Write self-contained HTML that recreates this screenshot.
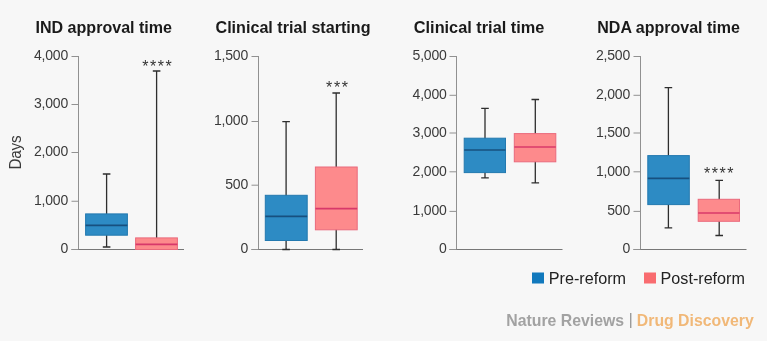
<!DOCTYPE html>
<html><head><meta charset="utf-8"><title>Box plots</title>
<style>
html,body{margin:0;padding:0;background:#f7f7f7;}
svg{display:block;font-family:"Liberation Sans",sans-serif;}
.t{font-size:16px;font-weight:bold;fill:#1a1a1a;}
.l{font-size:14px;fill:#3a3a3a;letter-spacing:-0.2px;}
.s{font-size:16px;fill:#333;}
.ax{fill:none;stroke:#919191;stroke-width:1;}
.w{fill:none;stroke:#2e2e2e;stroke-width:1.3;}
.lg{font-size:16px;fill:#222;}
.f{font-size:16.5px;font-weight:bold;}
</style></head><body>
<svg width="767" height="341" viewBox="0 0 767 341">
<rect width="767" height="341" fill="#f7f7f7"/>
<text transform="translate(21.3,152.65) rotate(-90)" x="-16.95" class="l" textLength="33.9" lengthAdjust="spacingAndGlyphs" style="font-size:16px">Days</text>
<text x="35.5" y="33.2" class="t" textLength="136.5" lengthAdjust="spacingAndGlyphs">IND approval time</text>
<path d="M78.5 56V249.5" class="ax"/>
<path d="M71.5 249.5H184" class="ax" style="stroke:#777"/>
<path d="M71.5 249.5H78.5" class="ax"/>
<text x="68.0" y="253.4" class="l" text-anchor="end">0</text>
<path d="M71.5 201.25H78.5" class="ax"/>
<text x="68.0" y="205.15" class="l" text-anchor="end">1,000</text>
<path d="M71.5 152.5H78.5" class="ax"/>
<text x="68.0" y="156.4" class="l" text-anchor="end">2,000</text>
<path d="M71.5 104.5H78.5" class="ax"/>
<text x="68.0" y="108.4" class="l" text-anchor="end">3,000</text>
<path d="M71.5 56.5H78.5" class="ax"/>
<text x="68.0" y="60.4" class="l" text-anchor="end">4,000</text>
<path d="M106.6 174V247M102.8 174H110.39999999999999M102.8 247H110.39999999999999" class="w"/>
<rect x="85.6" y="213.9" width="41.80000000000001" height="21.299999999999983" fill="#2d8bc4" stroke="#2379b0" stroke-width="1"/>
<path d="M85.6 225.4H127.4" stroke="#17507f" stroke-width="1.7"/>
<path d="M156.6 71V240M152.79999999999998 71H160.4" class="w"/>
<rect x="135.6" y="237.9" width="41.80000000000001" height="11.599999999999994" fill="#fd8a8c" stroke="#ea6a7c" stroke-width="1"/>
<path d="M135.6 244.4H177.4" stroke="#d8386a" stroke-width="1.7"/>
<text x="142.35" y="72.3" class="s" textLength="29.5">****</text>
<text x="215.5" y="33.2" class="t" textLength="155" lengthAdjust="spacingAndGlyphs">Clinical trial starting</text>
<path d="M258.5 56V249.5" class="ax"/>
<path d="M251.5 249.5H363" class="ax" style="stroke:#777"/>
<path d="M251.5 249.5H258.5" class="ax"/>
<text x="248.0" y="253.4" class="l" text-anchor="end">0</text>
<path d="M251.5 185.2H258.5" class="ax"/>
<text x="248.0" y="189.1" class="l" text-anchor="end">500</text>
<path d="M251.5 121.5H258.5" class="ax"/>
<text x="248.0" y="125.4" class="l" text-anchor="end">1,000</text>
<path d="M251.5 56.5H258.5" class="ax"/>
<text x="248.0" y="60.4" class="l" text-anchor="end">1,500</text>
<path d="M286.1 121.7V249.5M282.3 121.7H289.90000000000003M282.3 249.5H289.90000000000003" class="w"/>
<rect x="265.3" y="195.3" width="41.89999999999998" height="45.19999999999999" fill="#2d8bc4" stroke="#2379b0" stroke-width="1"/>
<path d="M265.3 216.3H307.2" stroke="#17507f" stroke-width="1.7"/>
<path d="M336.2 93V249.5M332.4 93H340.0M332.4 249.5H340.0" class="w"/>
<rect x="315.4" y="167" width="41.80000000000001" height="62.80000000000001" fill="#fd8a8c" stroke="#ea6a7c" stroke-width="1"/>
<path d="M315.4 208.6H357.2" stroke="#d8386a" stroke-width="1.7"/>
<text x="326.0" y="93.4" class="s" textLength="22">***</text>
<text x="413.8" y="33.2" class="t" textLength="130.5" lengthAdjust="spacingAndGlyphs">Clinical trial time</text>
<path d="M456.5 56V249.5" class="ax"/>
<path d="M449.5 249.5H562.5" class="ax" style="stroke:#777"/>
<path d="M449.5 249.5H456.5" class="ax"/>
<text x="446.6" y="253.4" class="l" text-anchor="end">0</text>
<path d="M449.5 211.4H456.5" class="ax"/>
<text x="446.6" y="215.3" class="l" text-anchor="end">1,000</text>
<path d="M449.5 171.8H456.5" class="ax"/>
<text x="446.6" y="175.70000000000002" class="l" text-anchor="end">2,000</text>
<path d="M449.5 133H456.5" class="ax"/>
<text x="446.6" y="136.9" class="l" text-anchor="end">3,000</text>
<path d="M449.5 95.3H456.5" class="ax"/>
<text x="446.6" y="99.2" class="l" text-anchor="end">4,000</text>
<path d="M449.5 56.5H456.5" class="ax"/>
<text x="446.6" y="60.4" class="l" text-anchor="end">5,000</text>
<path d="M485 108.3V177.8M481.2 108.3H488.8M481.2 177.8H488.8" class="w"/>
<rect x="464.2" y="138.2" width="41.30000000000001" height="34.400000000000006" fill="#2d8bc4" stroke="#2379b0" stroke-width="1"/>
<path d="M464.2 150H505.5" stroke="#17507f" stroke-width="1.7"/>
<path d="M535.3 99.5V182.8M531.5 99.5H539.0999999999999M531.5 182.8H539.0999999999999" class="w"/>
<rect x="514.3" y="133.6" width="41.5" height="28.200000000000017" fill="#fd8a8c" stroke="#ea6a7c" stroke-width="1"/>
<path d="M514.3 147H555.8" stroke="#d8386a" stroke-width="1.7"/>
<text x="597.3" y="33.2" class="t" textLength="142.5" lengthAdjust="spacingAndGlyphs">NDA approval time</text>
<path d="M640.5 56V249.5" class="ax"/>
<path d="M633.5 249.5H746.5" class="ax" style="stroke:#777"/>
<path d="M633.5 249.5H640.5" class="ax"/>
<text x="630.0" y="253.4" class="l" text-anchor="end">0</text>
<path d="M633.5 211.4H640.5" class="ax"/>
<text x="630.0" y="215.3" class="l" text-anchor="end">500</text>
<path d="M633.5 171.8H640.5" class="ax"/>
<text x="630.0" y="175.70000000000002" class="l" text-anchor="end">1,000</text>
<path d="M633.5 133H640.5" class="ax"/>
<text x="630.0" y="136.9" class="l" text-anchor="end">1,500</text>
<path d="M633.5 95.3H640.5" class="ax"/>
<text x="630.0" y="99.2" class="l" text-anchor="end">2,000</text>
<path d="M633.5 56.5H640.5" class="ax"/>
<text x="630.0" y="60.4" class="l" text-anchor="end">2,500</text>
<path d="M668.4 87.6V227.8M664.6 87.6H672.1999999999999M664.6 227.8H672.1999999999999" class="w"/>
<rect x="647.8" y="155.6" width="41.5" height="49.0" fill="#2d8bc4" stroke="#2379b0" stroke-width="1"/>
<path d="M647.8 178.3H689.3" stroke="#17507f" stroke-width="1.7"/>
<path d="M719.2 180.3V235.5M715.4000000000001 180.3H723.0M715.4000000000001 235.5H723.0" class="w"/>
<rect x="698.2" y="199.3" width="41.299999999999955" height="22.0" fill="#fd8a8c" stroke="#ea6a7c" stroke-width="1"/>
<path d="M698.2 213H739.5" stroke="#d8386a" stroke-width="1.7"/>
<text x="704.0" y="179.1" class="s" textLength="29.5">****</text>
<rect x="532" y="272.5" width="12" height="11" fill="#1179bd"/>
<text x="548.8" y="283.9" class="lg" textLength="77.3" lengthAdjust="spacingAndGlyphs">Pre-reform</text>
<rect x="644" y="272.5" width="12" height="11" fill="#f96c70"/>
<text x="660.6" y="283.9" class="lg" textLength="84.3" lengthAdjust="spacingAndGlyphs">Post-reform</text>
<text x="506.3" y="325.8" class="f" fill="#a2a2a2" textLength="117.8" lengthAdjust="spacingAndGlyphs">Nature Reviews</text>
<text x="628.6" y="325.3" fill="#9a9a9a" style="font-size:17px">|</text>
<text x="636.8" y="325.8" class="f" fill="#f1b878" textLength="117" lengthAdjust="spacingAndGlyphs">Drug Discovery</text>
</svg>
</body></html>
